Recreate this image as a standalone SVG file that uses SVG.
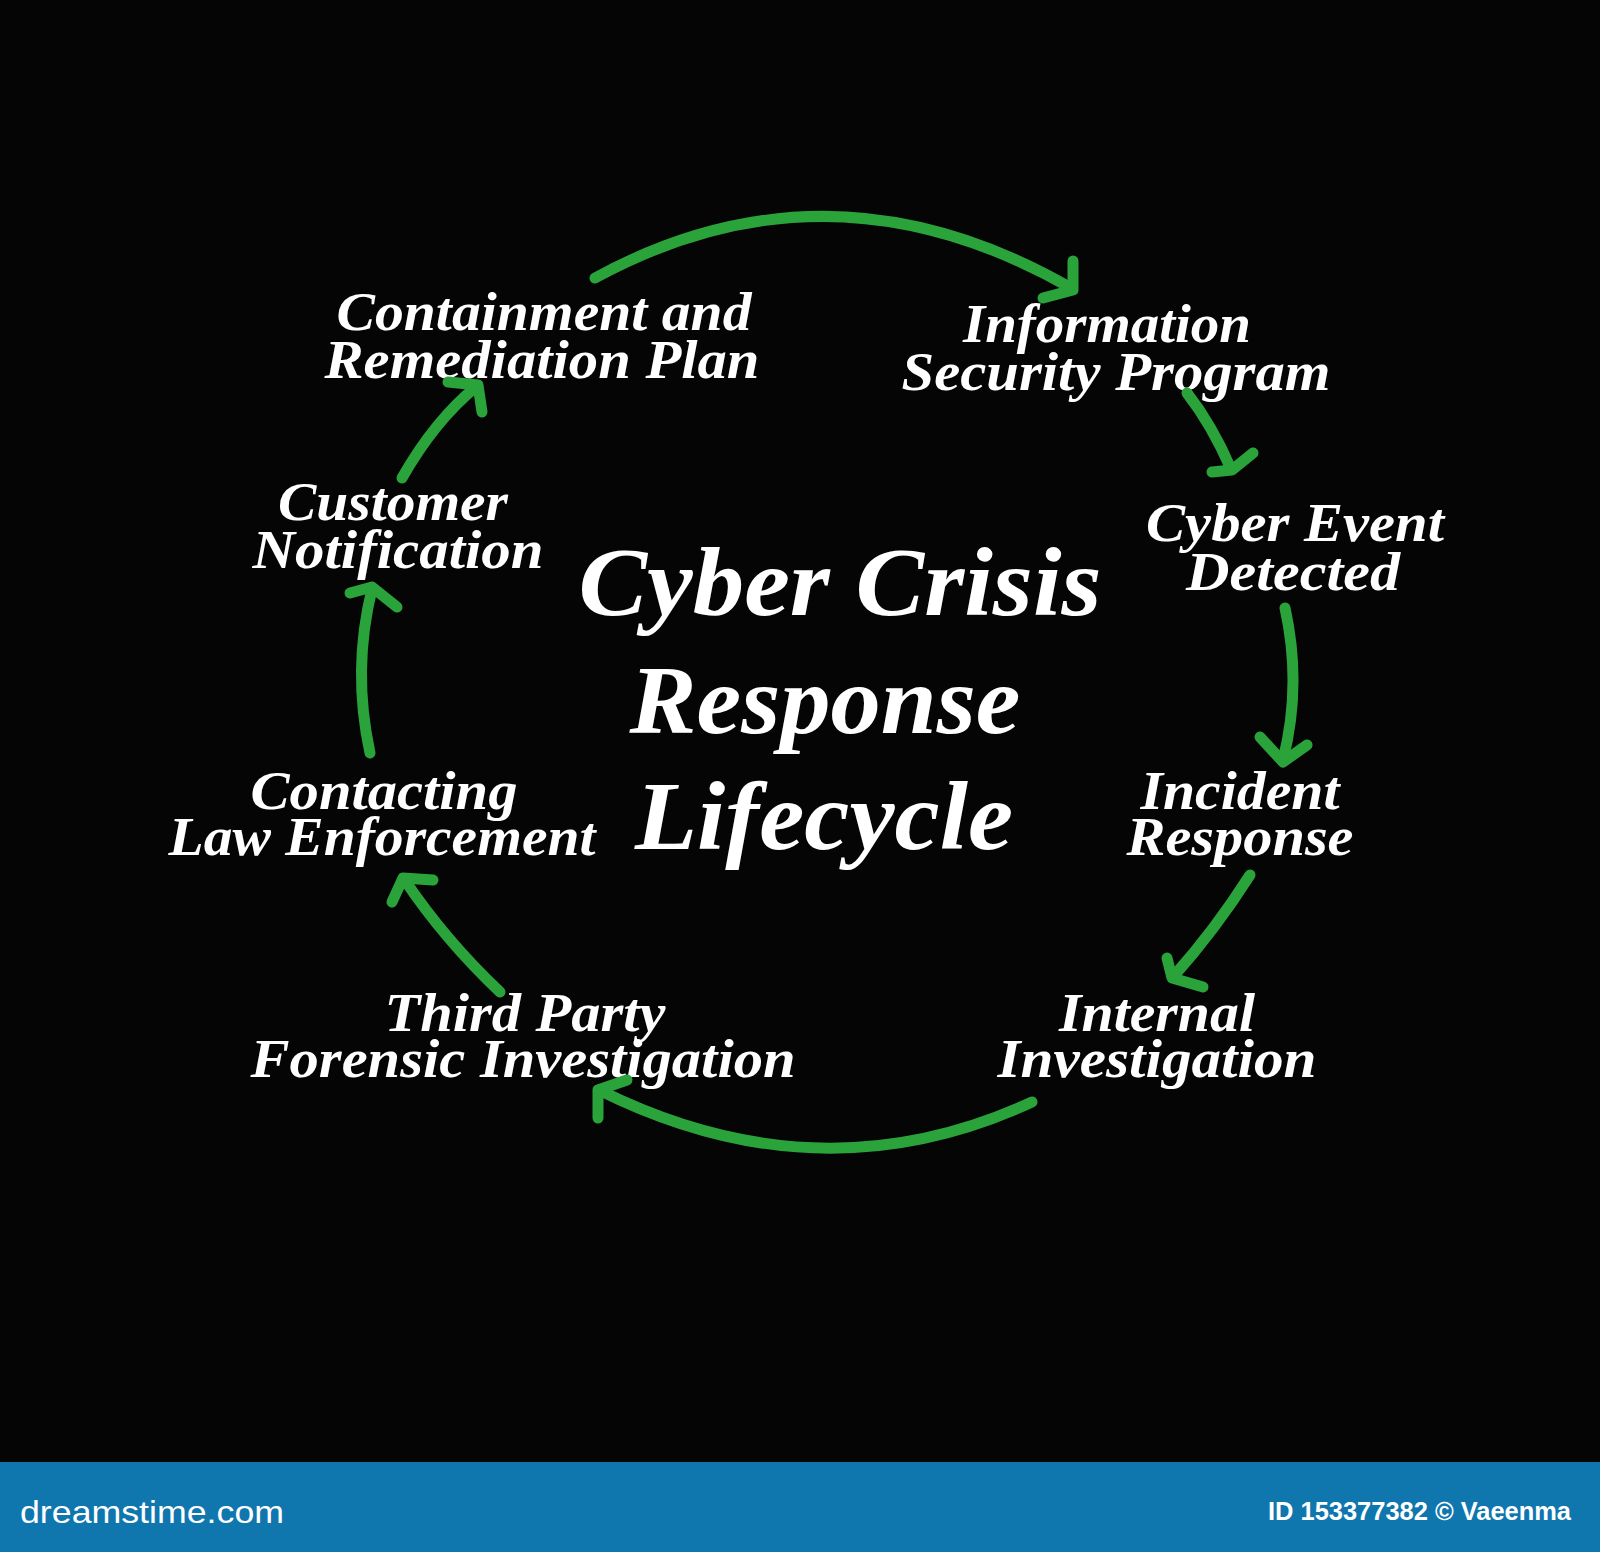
<svg xmlns="http://www.w3.org/2000/svg" width="1600" height="1552" viewBox="0 0 1600 1552">
<defs>
<style>
.lbl{font-family:"Liberation Serif","Times New Roman",serif;font-style:italic;font-weight:bold;font-size:54px;fill:#ffffff;text-anchor:middle}
.ttl{font-family:"Liberation Serif","Times New Roman",serif;font-style:italic;font-weight:bold;font-size:98px;fill:#ffffff;text-anchor:middle}
.arr{fill:none;stroke:#2ba33b;stroke-width:11;stroke-linecap:round;stroke-linejoin:round}
.foot{font-family:"Liberation Sans",Arial,sans-serif;fill:#ffffff}
</style>
</defs>
<rect x="0" y="0" width="1600" height="1552" fill="#050505"/>

<g id="title">
<text class="ttl" x="840" y="615" textLength="523" lengthAdjust="spacingAndGlyphs">Cyber Crisis</text>
<text class="ttl" x="825" y="733" textLength="391" lengthAdjust="spacingAndGlyphs">Response</text>
<text class="ttl" x="824" y="849" textLength="378" lengthAdjust="spacingAndGlyphs">Lifecycle</text>
</g>

<g id="node-containment">
<text class="lbl" x="544" y="330" textLength="415" lengthAdjust="spacingAndGlyphs">Containment and</text>
<text class="lbl" x="542" y="378" textLength="435" lengthAdjust="spacingAndGlyphs">Remediation Plan</text>
</g>
<g id="node-infosec">
<text class="lbl" x="1107" y="342" textLength="288" lengthAdjust="spacingAndGlyphs">Information</text>
<text class="lbl" x="1116" y="390" textLength="429" lengthAdjust="spacingAndGlyphs">Security Program</text>
</g>
<g id="node-cyber-event">
<text class="lbl" x="1295" y="541" textLength="298" lengthAdjust="spacingAndGlyphs">Cyber Event</text>
<text class="lbl" x="1293" y="590" textLength="214" lengthAdjust="spacingAndGlyphs">Detected</text>
</g>
<g id="node-incident">
<text class="lbl" x="1240" y="809" textLength="199" lengthAdjust="spacingAndGlyphs">Incident</text>
<text class="lbl" x="1240" y="855" textLength="227" lengthAdjust="spacingAndGlyphs">Response</text>
</g>
<g id="node-internal">
<text class="lbl" x="1157" y="1031" textLength="196" lengthAdjust="spacingAndGlyphs">Internal</text>
<text class="lbl" x="1157" y="1077" textLength="319" lengthAdjust="spacingAndGlyphs">Investigation</text>
</g>
<g id="node-third-party">
<text class="lbl" x="525" y="1031" textLength="281" lengthAdjust="spacingAndGlyphs">Third Party</text>
<text class="lbl" x="523" y="1077" textLength="545" lengthAdjust="spacingAndGlyphs">Forensic Investigation</text>
</g>
<g id="node-law">
<text class="lbl" x="384" y="809" textLength="267" lengthAdjust="spacingAndGlyphs">Contacting</text>
<text class="lbl" x="382" y="855" textLength="427" lengthAdjust="spacingAndGlyphs">Law Enforcement</text>
</g>
<g id="node-customer">
<text class="lbl" x="393" y="520" textLength="230" lengthAdjust="spacingAndGlyphs">Customer</text>
<text class="lbl" x="398" y="568" textLength="291" lengthAdjust="spacingAndGlyphs">Notification</text>
</g>

<g id="connectors">
<path class="arr" d="M595,278 Q830,150 1071,288"/>
<path class="arr" d="M1073,261 L1073,290 L1043,298"/>

<path class="arr" d="M1187,393 Q1212,425 1231,469"/>
<path class="arr" d="M1253,453 L1232,470 L1212,472"/>

<path class="arr" d="M1285,608 Q1302,685 1283,760"/>
<path class="arr" d="M1260,737 L1283,762 L1307,745"/>

<path class="arr" d="M1250,875 Q1215,930 1173,977"/>
<path class="arr" d="M1167,958 L1172,978 L1203,987"/>

<path class="arr" d="M1032,1102 Q820,1200 599,1090"/>
<path class="arr" d="M598,1118 L598,1090 L627,1080"/>

<path class="arr" d="M500,992 Q445,940 404,879"/>
<path class="arr" d="M392,902 L403,878 L433,880"/>

<path class="arr" d="M370,753 Q352,670 372,589"/>
<path class="arr" d="M350,593 L372,587 L397,607"/>

<path class="arr" d="M402,478 Q435,420 477,386"/>
<path class="arr" d="M448,382 L478,385 L482,412"/>
</g>

<g id="footer">
<rect x="0" y="1462" width="1600" height="90" fill="#0f76ae"/>
<text class="foot" x="20" y="1523" font-size="32" textLength="264" lengthAdjust="spacingAndGlyphs">dreamstime.com</text>
<text class="foot" x="1571" y="1520" font-size="25" font-weight="bold" text-anchor="end" textLength="303" lengthAdjust="spacingAndGlyphs">ID 153377382 © Vaeenma</text>
</g>
</svg>
